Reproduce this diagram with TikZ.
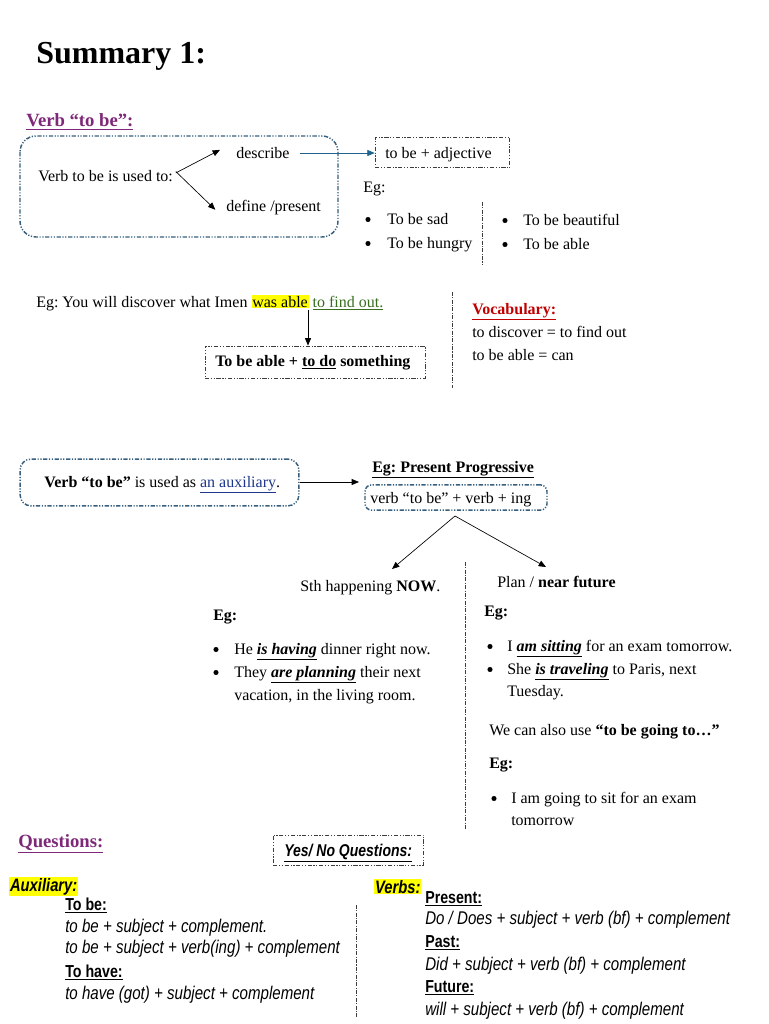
\documentclass[tikz,border=0pt]{standalone}
\usepackage{fontspec}
\setmainfont{Liberation Serif}
\newfontfamily\narrowf[FakeStretch=0.82]{Liberation Sans}
\usetikzlibrary{arrows.meta}
\definecolor{purp}{RGB}{125,40,120}
\definecolor{boxblue}{RGB}{55,95,125}
\definecolor{arrblue}{RGB}{30,100,140}
\definecolor{vred}{RGB}{192,0,0}
\definecolor{fgreen}{RGB}{56,110,30}
\definecolor{lblue}{RGB}{30,55,140}
\definecolor{dgray}{RGB}{60,60,60}
\definecolor{hly}{RGB}{255,255,0}
\newcommand\tw{\fontsize{12}{14}\selectfont}
\newcommand\nit{\narrowf\fontsize{13.8}{16}\selectfont\itshape}
\newcommand\nbf{\narrowf\fontsize{13}{16}\selectfont\bfseries}
\newcommand\nbi{\narrowf\fontsize{13.5}{16}\selectfont\bfseries\itshape}
\newcommand\hlt[1]{{\setlength{\fboxsep}{0.6pt}\colorbox{hly}{#1}}}
\frenchspacing
\tikzset{
  txt/.style={anchor=base west, inner sep=0pt, font=\tw},
  nar/.style={anchor=base west, inner sep=0pt},
  ddot/.style={dash pattern=on 3.2pt off 1.2pt on 0.9pt off 1.2pt on 0.9pt off 1.2pt},
  sepline/.style={draw=dgray, line width=0.6pt, dash pattern=on 3pt off 1pt on 0.8pt off 1pt},
  arr/.style={-{Triangle[length=5.5pt,width=4.5pt]}, line width=0.5pt},
  bul/.style={circle, fill=black, inner sep=0pt, minimum size=3.8pt}
}
\begin{document}
\begin{tikzpicture}[x=0.75pt,y=-0.75pt]
\useasboundingbox (0,0) rectangle (768,1024);

% Title
\node[anchor=base west, inner sep=0pt, font=\fontsize{24}{28}\selectfont\bfseries] (title) at (36,64) {Summary 1:};

% Section 1
\node[anchor=base west, inner sep=0pt, font=\fontsize{14}{16}\selectfont\bfseries, text=purp] (vtb) at (26,127) {\underline{Verb “to be”:}};
\draw[boxblue, line width=1.1pt, ddot, rounded corners=12pt] (20,136) rectangle (338,237);
\node[txt] (used) at (38,181) {Verb to be is used to:};
\node[txt] (descr) at (236,158) {describe};
\node[txt] (defin) at (226,211) {define /present};
\draw[arr] ([xshift=2pt,yshift=2pt]used.east) -- ([xshift=-12pt,yshift=2pt]descr.west);
\draw[arr] ([xshift=2pt,yshift=3pt]used.east) -- ([xshift=-8pt,yshift=-2pt]defin.west);
\node[draw=dgray, line width=0.7pt, ddot, minimum width=101pt, minimum height=23pt, inner sep=0pt] (adj) at (442.5,152.5) {};
\node[txt] (adjt) at (385,158) {to be + adjective};
\coordinate (bstart) at (300,153);
\draw[arr, arrblue] (bstart) -- (bstart -| adj.west);
\node[txt] (eg1) at (363,192) {Eg:};
\node[bul] (b1) at (368,219.5) {};
\node[txt] (t1) at (387,224) {To be sad};
\node[bul] (b2) at (368,243.5) {};
\node[txt] (t2) at (387,248) {To be hungry};
\coordinate (s1a) at (482,202);
\coordinate (s1b) at (482,265);
\draw[sepline] (s1a) -- (s1b);
\node[bul] (b3) at (505,220.5) {};
\node[txt] (t3) at (523,225) {To be beautiful};
\node[bul] (b4) at (505,244.5) {};
\node[txt] (t4) at (523,249) {To be able};

\node[txt] (egs) at (36,307) {Eg: You will discover what Imen \hlt{was able} \textcolor{fgreen}{\underline{to find out.}}};
\node[draw=dgray, line width=0.7pt, ddot, minimum width=165pt, minimum height=24pt, inner sep=0pt] (able) at (315,362) {};
\node[txt, font=\tw\bfseries] (ablet) at (215,366) {To be able + \underline{to do} something};
\coordinate (abtop) at (308,310);
\draw[arr] (abtop) -- (able.north -| abtop);
\coordinate (s2a) at (452,292);
\coordinate (s2b) at (452,388);
\draw[sepline] (s2a) -- (s2b);
\node[txt, font=\tw\bfseries, text=vred] (voc) at (472,314) {\underline{Vocabulary:}};
\node[txt] (v1) at (472,337) {to discover = to find out};
\node[txt] (v2) at (472,360) {to be able = can};

% Section 2
\node[draw=boxblue, line width=1.1pt, ddot, rounded corners=8pt, minimum width=209pt, minimum height=35pt, inner sep=0pt] (auxb) at (159.5,482.5) {};
\node[txt] (auxt) at (44,487) {\textbf{Verb “to be”} is used as \textcolor{lblue}{\underline{an auxiliary}}.};
\node[txt, font=\tw\bfseries] (ppt) at (372,472) {\underline{Eg: Present Progressive}};
\node[draw=boxblue, line width=1.1pt, ddot, rounded corners=5pt, minimum width=136.5pt, minimum height=19pt, inner sep=0pt] (ppb) at (456,497.5) {};
\node[txt] (ppbt) at (370,503) {verb “to be” + verb + ing};
\coordinate (auxend) at (359,482);
\draw[arr] (auxend -| auxb.east) -- (auxend);
\coordinate (fork) at (455,516);
\node[txt] (now) at (300,591) {Sth happening \textbf{NOW}.};
\node[txt] (plan) at (497,587) {Plan / \textbf{near future}};
\draw[arr] (fork) -- (392,569);
\draw[arr] (fork) -- (546,567);
\coordinate (s3a) at (465,562);
\coordinate (s3b) at (465,830);
\draw[sepline] (s3a) -- (s3b);
\node[txt, font=\tw\bfseries] (egl) at (213,620) {Eg:};
\node[bul] (b5) at (216,649.5) {};
\node[txt] (t5) at (234,654) {He \textbf{\textit{\underline{is having}}} dinner right now.};
\node[bul] (b6) at (216,672.5) {};
\node[txt] (t6) at (234,677) {They \textbf{\textit{\underline{are planning}}} their next};
\node[txt] (t7) at (234,700) {vacation, in the living room.};
\node[txt, font=\tw\bfseries] (egr) at (484,616) {Eg:};
\node[bul] (b7) at (490,646.5) {};
\node[txt] (t8) at (507,651) {I \textbf{\textit{\underline{am sitting}}} for an exam tomorrow.};
\node[bul] (b8) at (490,669.5) {};
\node[txt] (t9) at (507,674) {She \textbf{\textit{\underline{is traveling}}} to Paris, next};
\node[txt] (t10) at (507,696) {Tuesday.};
\node[txt] (also) at (489,735) {We can also use \textbf{“to be going to…”}};
\node[txt, font=\tw\bfseries] (egr2) at (489,768) {Eg:};
\node[bul] (b9) at (494,798.5) {};
\node[txt] (t11) at (511,803) {I am going to sit for an exam};
\node[txt] (t12) at (511,825) {tomorrow};

% Section 3
\node[anchor=base west, inner sep=0pt, font=\fontsize{14}{16}\selectfont\bfseries, text=purp] (quest) at (18,847) {\underline{Questions:}};
\node[draw=dgray, line width=0.7pt, ddot, minimum width=113pt, minimum height=22.5pt, inner sep=0pt] (yn) at (348.5,850) {};
\node[nar, font=\narrowf\fontsize{12.8}{16}\selectfont\bfseries\itshape] (ynt) at (284,856) {\underline{Yes/ No Questions:}};
\node[nar, font=\nbi] (auxl) at (9,891) {\hlt{Auxiliary:}};
\node[nar, font=\nbf] (tobe) at (65,910) {\underline{To be:}};
\node[nar, font=\nit] (q1) at (65,932) {to be + subject + complement.};
\node[nar, font=\nit] (q2) at (65,953) {to be + subject + verb(ing) + complement};
\node[nar, font=\nbf] (tohave) at (65,977) {\underline{To have:}};
\node[nar, font=\nit] (q3) at (65,999) {to have (got) + subject + complement};
\coordinate (s4a) at (356,905);
\coordinate (s4b) at (356,1018);
\draw[sepline] (s4a) -- (s4b);
\node[nar, font=\nbi] (verbs) at (374,893) {\hlt{Verbs:}};
\node[nar, font=\nbf] (pres) at (425,903) {\underline{Present:}};
\node[nar, font=\nit] (q4) at (425,924) {Do / Does + subject + verb (bf) + complement};
\node[nar, font=\nbf] (past) at (425,947) {\underline{Past:}};
\node[nar, font=\nit] (q5) at (425,970) {Did + subject + verb (bf) + complement};
\node[nar, font=\nbf] (fut) at (425,992) {\underline{Future:}};
\node[nar, font=\nit] (q6) at (425,1015) {will + subject + verb (bf) + complement};
\end{tikzpicture}
\end{document}
